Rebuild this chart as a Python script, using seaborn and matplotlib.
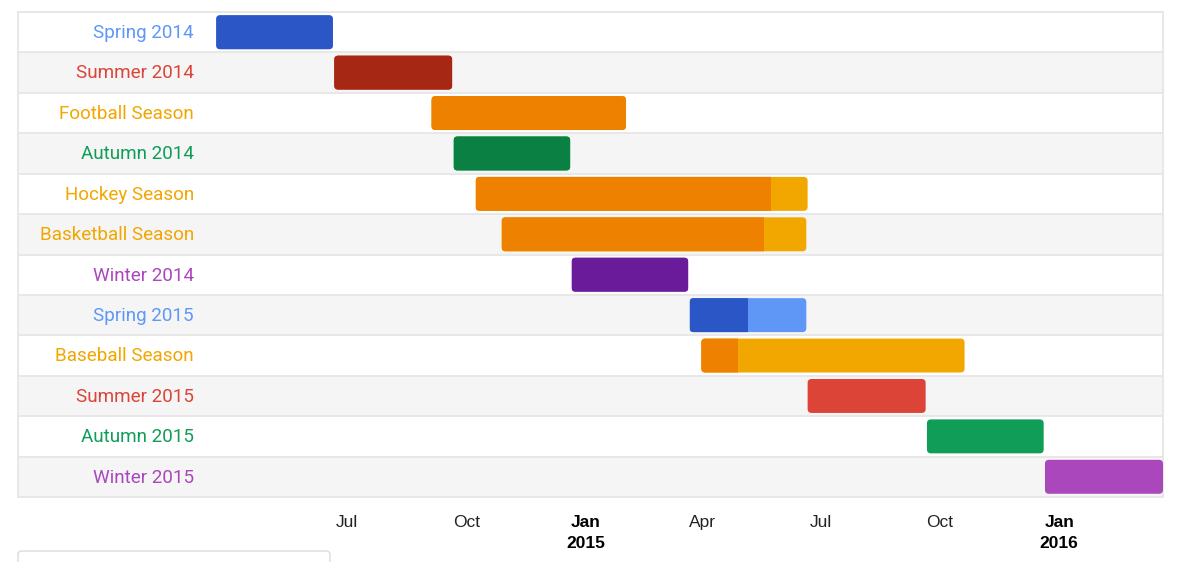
import matplotlib
matplotlib.use("Agg")
import matplotlib.pyplot as plt
import matplotlib.dates as mdates
from matplotlib.patches import FancyBboxPatch
from matplotlib.transforms import IdentityTransform, blended_transform_factory
import seaborn as sns
import pandas as pd
import numpy as np

# ---------------- data ----------------
tasks = ["Spring 2014", "Summer 2014", "Football Season", "Autumn 2014",
         "Hockey Season", "Basketball Season", "Winter 2014", "Spring 2015",
         "Baseball Season", "Summer 2015", "Autumn 2015", "Winter 2015"]
groups = ["spring", "summer", "sports", "autumn", "sports", "sports",
          "winter", "spring", "sports", "summer", "autumn", "winter"]
start_dates = ["2014-03-22", "2014-06-21", "2014-09-04", "2014-09-21",
               "2014-10-08", "2014-10-28", "2014-12-21", "2015-03-22",
               "2015-03-31", "2015-06-21", "2015-09-21", "2015-12-21"]
end_dates = ["2014-06-20", "2014-09-20", "2015-02-01", "2014-12-20",
             "2015-06-21", "2015-06-20", "2015-03-21", "2015-06-20",
             "2015-10-20", "2015-09-20", "2015-12-20", "2016-03-21"]
percent_done = [100, 100, 100, 100, 89, 86, 100, 50, 14, 0, 0, 0]

tick_dates = ["2014-07-01", "2014-10-01", "2015-01-01", "2015-04-01",
              "2015-07-01", "2015-10-01", "2016-01-01"]
tick_labels = ["Jul", "Oct", "Jan\n2015", "Apr", "Jul", "Oct", "Jan\n2016"]

dark_colors = {"spring": "#2a56c6", "summer": "#a52714", "autumn": "#0b8043",
               "winter": "#6a1b9a", "sports": "#ef8100"}
light_colors = {"spring": "#5e97f6", "summer": "#db4437", "autumn": "#0f9d58",
                "winter": "#ab47bc", "sports": "#f2a600"}

# ---------------- derived table ----------------
start_num = mdates.datestr2num(start_dates)
end_num = mdates.datestr2num(end_dates)
df = pd.DataFrame({
    "task": tasks,
    "group": groups,
    "start": start_num,
    "duration": end_num - start_num,
})
df["done"] = df["duration"] * np.array(percent_done) / 100.0

# ---------------- figure ----------------
sns.set_theme(style="white")
plt.rcParams["font.family"] = ["Roboto", "DejaVu Sans"]

W, H = 1197, 562
fig = plt.figure(figsize=(W / 100, H / 100), dpi=100)
ax_left, ax_right, ax_top, ax_bottom = 18, 1163, 12, 497
ax = fig.add_axes([ax_left / W, 1 - ax_bottom / H,
                   (ax_right - ax_left) / W, (ax_bottom - ax_top) / H])

n = len(tasks)
x_max = end_num.max()
px_per_day = 1.297
x_min = x_max - (ax_right - ax_left) / px_per_day

# row backgrounds
for i in range(n):
    ax.axhspan(i - 0.5, i + 0.5, color="white" if i % 2 == 0 else "#f5f5f5",
               zorder=0, lw=0)
for i in range(n + 1):
    ax.axhline(i - 0.5, color="#e6e6e6", lw=1.3, zorder=1)

# bars through seaborn
n_before = len(ax.patches)
sns.barplot(data=df, y="task", x="duration", order=tasks, left=df["start"],
            width=0.84, color="#cccccc", errorbar=None, ax=ax)
full_rects = ax.patches[n_before:]
n_before = len(ax.patches)
sns.barplot(data=df, y="task", x="done", order=tasks, left=df["start"],
            width=0.84, color="#999999", errorbar=None, ax=ax)
done_rects = ax.patches[n_before:]

ax.set_xlim(x_min, x_max)
ax.set_ylim(n - 0.5, -0.5)

ax_w_px = ax_right - ax_left
ax_h_px = ax_bottom - ax_top
xpp = (x_max - x_min) / ax_w_px      # data x per pixel
ypp = n / ax_h_px                    # data y per pixel
radius_px = 4
rs = radius_px * xpp
ma = (radius_px * ypp) / rs

full_geo = [(r.get_x(), r.get_y(), r.get_width(), r.get_height()) for r in full_rects]
done_geo = [(r.get_x(), r.get_y(), r.get_width(), r.get_height()) for r in done_rects]
for r in list(full_rects) + list(done_rects):
    r.remove()

for i, ((x, y, w, h), (dx, dy, dw, dh)) in enumerate(zip(full_geo, done_geo)):
    g = groups[i]
    light = FancyBboxPatch((x, y), w, h, boxstyle=f"round,pad=0,rounding_size={rs}",
                           mutation_aspect=ma, fc=light_colors[g], ec="none", zorder=3)
    ax.add_patch(light)
    if dw > 0:
        darkp = FancyBboxPatch((x, y), w, h, boxstyle=f"round,pad=0,rounding_size={rs}",
                               mutation_aspect=ma, fc=dark_colors[g], ec="none", zorder=4)
        ax.add_patch(darkp)
        clip = matplotlib.patches.Rectangle((dx, dy - 0.05), dw, dh + 0.1,
                                            transform=ax.transData, fc="none", ec="none")
        darkp.set_clip_path(clip)

# task labels
trans = blended_transform_factory(ax.transAxes, ax.transData)
label_x = (194 - ax_left) / ax_w_px
for i, t in enumerate(tasks):
    ax.text(label_x, i + 0.02, t, transform=trans, ha="right", va="center",
            fontsize=13.6, color=light_colors[groups[i]], family=["Roboto", "DejaVu Sans"],
            zorder=5)

# axis formatting
ax.set_yticks([])
ax.set_ylabel("")
ax.set_xlabel("")
ax.set_xticks(mdates.datestr2num(tick_dates))
ax.set_xticklabels(tick_labels, family=["Liberation Sans", "DejaVu Sans"],
                   fontsize=12.5, linespacing=1.5, va="top")
for lab in ax.get_xticklabels():
    if lab.get_text().startswith("Jan"):
        lab.set_fontweight("bold")
        lab.set_color("#000000")
    else:
        lab.set_color("#222222")
ax.tick_params(axis="x", length=0, pad=13)
for s in ax.spines.values():
    s.set_color("#e6e6e6")
    s.set_linewidth(1.3)
ax.grid(False)

# partial box at bottom left
box = FancyBboxPatch((18, -30), 312, 41, boxstyle="round,pad=0,rounding_size=4",
                     transform=IdentityTransform(), fc="white", ec="#dadce0", lw=1)
fig.add_artist(box)

fig.savefig("out.png", dpi=100)
